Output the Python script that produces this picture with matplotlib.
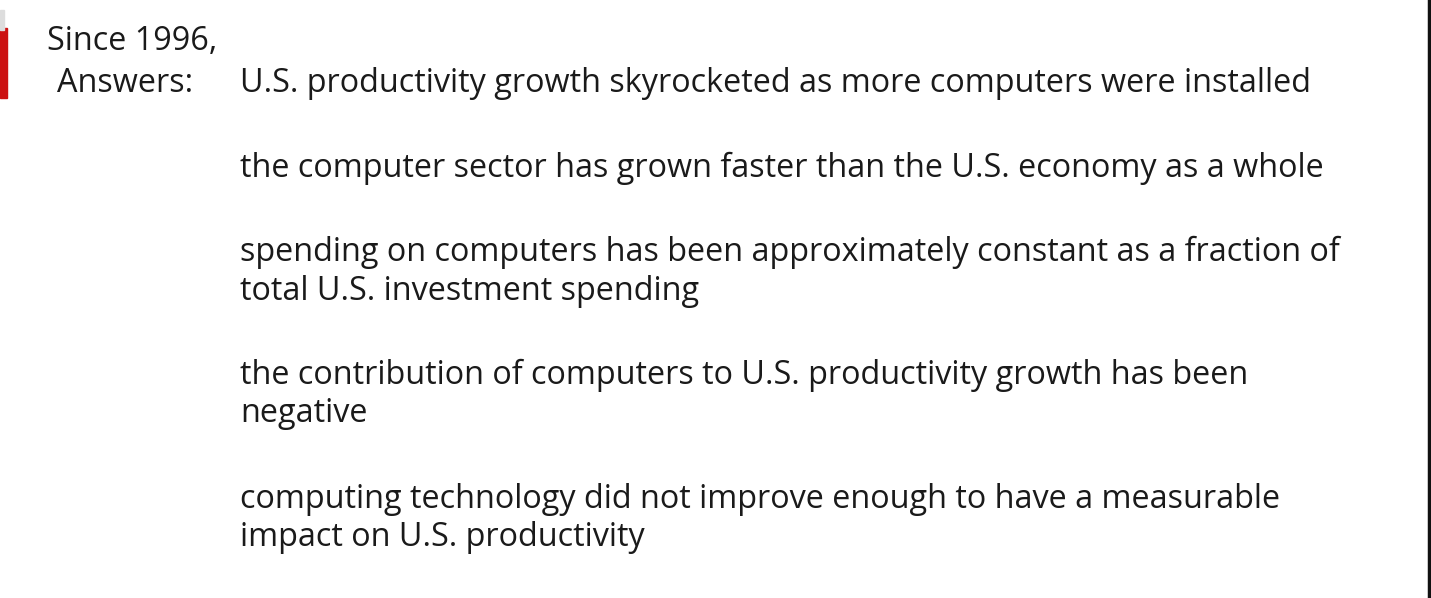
import matplotlib
matplotlib.use("Agg")
import matplotlib.pyplot as plt
from matplotlib.patches import Rectangle

question = "Since 1996,"
answers_label = "Answers:"
answers = [
    "U.S. productivity growth skyrocketed as more computers were installed",
    "the computer sector has grown faster than the U.S. economy as a whole",
    "spending on computers has been approximately constant as a fraction of\ntotal U.S. investment spending",
    "the contribution of computers to U.S. productivity growth has been\nnegative",
    "computing technology did not improve enough to have a measurable\nimpact on U.S. productivity",
]
answer_tops = [84, 168, 252, 375, 499]

W, H = 1431, 598
fig = plt.figure(figsize=(W/100, H/100), dpi=100)
ax = fig.add_axes([0, 0, 1, 1])
ax.set_xlim(0, W); ax.set_ylim(H, 0); ax.axis("off")
fs = 23.3
kw = dict(family="Open Sans", fontsize=fs, color="#1a1a1a", va="center")
ax.text(47, 42, question, **kw)
ax.text(57, 84, answers_label, **kw)
for t, y in zip(answers, answer_tops):
    for i, ln in enumerate(t.split("\n")):
        ax.text(240, y + i*39, ln, **kw)
ax.add_patch(Rectangle((0, 28), 7, 70, color="#cc1111"))
ax.add_patch(Rectangle((0, 10), 4, 20, color="#dddddd"))
ax.plot([1429, 1429], [0, H], color="#111111", lw=2.5)
fig.savefig("out.png", dpi=100)
